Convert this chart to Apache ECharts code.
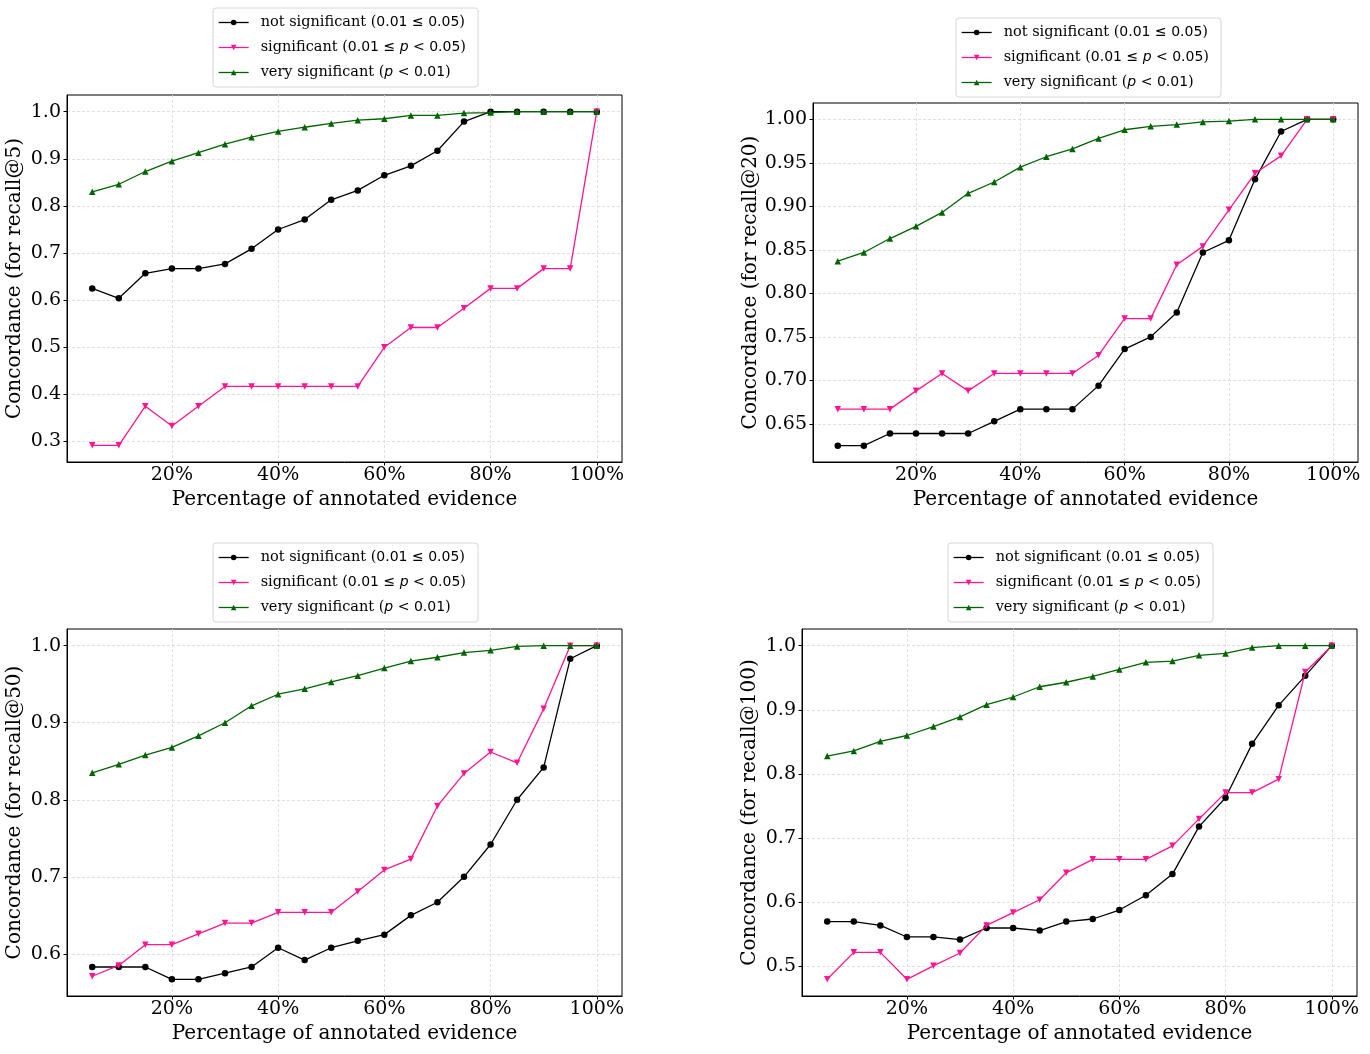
<!DOCTYPE html>
<html>
<head>
<meta charset="utf-8">
<script src="https://cdn.jsdelivr.net/npm/echarts@6/dist/echarts.min.js"></script>
<style>
html,body{margin:0;padding:0;background:#fff;}
#chart{width:1370px;height:1054px;}
</style>
</head>
<body>
<div id="chart"></div>
<script>
// ---- data ----
const xPercent = [5,10,15,20,25,30,35,40,45,50,55,60,65,70,75,80,85,90,95,100];
const xTicks = [20,40,60,80,100];

const seriesNames = ['not significant (0.01 ≤ 0.05)', 'significant (0.01 ≤ p < 0.05)', 'very significant (p < 0.01)'];

const r5NotSig  = [0.625,0.604,0.657,0.667,0.667,0.677,0.709,0.750,0.771,0.813,0.833,0.865,0.885,0.917,0.979,1.0,1.0,1.0,1.0,1.0];
const r5Sig     = [0.292,0.292,0.375,0.333,0.375,0.417,0.417,0.417,0.417,0.417,0.417,0.500,0.542,0.542,0.583,0.625,0.625,0.667,0.667,1.0];
const r5VerySig = [0.830,0.846,0.873,0.895,0.913,0.931,0.946,0.958,0.967,0.975,0.982,0.985,0.992,0.992,0.997,0.998,1.0,1.0,1.0,1.0];

const r20NotSig  = [0.625,0.625,0.639,0.639,0.639,0.639,0.653,0.667,0.667,0.667,0.694,0.736,0.750,0.778,0.847,0.861,0.931,0.986,1.0,1.0];
const r20Sig     = [0.667,0.667,0.667,0.688,0.708,0.688,0.708,0.708,0.708,0.708,0.729,0.771,0.771,0.833,0.854,0.896,0.938,0.958,1.0,1.0];
const r20VerySig = [0.837,0.847,0.863,0.877,0.893,0.915,0.928,0.945,0.957,0.966,0.978,0.988,0.992,0.994,0.997,0.998,1.0,1.0,1.0,1.0];

const r50NotSig  = [0.583,0.583,0.583,0.567,0.567,0.575,0.583,0.608,0.592,0.608,0.617,0.625,0.650,0.667,0.700,0.742,0.800,0.842,0.983,1.0];
const r50Sig     = [0.571,0.585,0.612,0.612,0.626,0.640,0.640,0.654,0.654,0.654,0.681,0.709,0.723,0.792,0.834,0.862,0.848,0.918,1.0,1.0];
const r50VerySig = [0.835,0.846,0.858,0.868,0.883,0.900,0.922,0.937,0.944,0.953,0.961,0.971,0.980,0.985,0.991,0.994,0.999,1.0,1.0,1.0];

const r100NotSig  = [0.570,0.570,0.564,0.546,0.546,0.542,0.560,0.560,0.556,0.570,0.574,0.588,0.611,0.644,0.718,0.763,0.847,0.907,0.953,1.0];
const r100Sig     = [0.480,0.522,0.522,0.480,0.501,0.521,0.564,0.584,0.604,0.646,0.667,0.667,0.667,0.688,0.730,0.771,0.771,0.792,0.959,1.0];
const r100VerySig = [0.828,0.836,0.851,0.860,0.874,0.889,0.908,0.920,0.936,0.943,0.952,0.963,0.974,0.976,0.985,0.988,0.997,1.0,1.0,1.0];

const yTicks5   = [0.3,0.4,0.5,0.6,0.7,0.8,0.9,1.0];
const yTicks20  = [0.65,0.70,0.75,0.80,0.85,0.90,0.95,1.00];
const yTicks50  = [0.6,0.7,0.8,0.9,1.0];
const yTicks100 = [0.5,0.6,0.7,0.8,0.9,1.0];

const yTitles = ['Concordance (for recall@5)','Concordance (for recall@20)','Concordance (for recall@50)','Concordance (for recall@100)'];
const xTitle = 'Percentage of annotated evidence';

// ---- layout / style ----
const panels = [
  {grid:{left:67, top:95, width:555, height:367}, legend:{left:213, top:8}, data:[r5NotSig,r5Sig,r5VerySig], ticks:yTicks5, dec:1, nameGap:42},
  {grid:{left:813, top:103, width:545, height:359}, legend:{left:956, top:18}, data:[r20NotSig,r20Sig,r20VerySig], ticks:yTicks20, dec:2, nameGap:52},
  {grid:{left:67, top:629, width:555, height:367}, legend:{left:213, top:543}, data:[r50NotSig,r50Sig,r50VerySig], ticks:yTicks50, dec:1, nameGap:42},
  {grid:{left:802, top:629, width:555, height:367}, legend:{left:948, top:543}, data:[r100NotSig,r100Sig,r100VerySig], ticks:yTicks100, dec:1, nameGap:42}
];
const colors = ['#000000', '#ff1493', '#006400'];
const symbols = ['circle', 'triangle', 'triangle'];
const symbolRot = [0, 180, 0];
const symbolSizes = [6.5, 6.5, 6.5];
const SERIF = '"DejaVu Serif", serif';
const SANS = '"DejaVu Sans", sans-serif';

function extent(arrs){
  let mn = Infinity, mx = -Infinity;
  arrs.forEach(a => a.forEach(v => { mn = Math.min(mn, v); mx = Math.max(mx, v); }));
  const pad = (mx - mn) * 0.05;
  return [mn - pad, mx + pad];
}
const xExt = [xPercent[0] - (xPercent[xPercent.length-1]-xPercent[0])*0.05, xPercent[xPercent.length-1] + (xPercent[xPercent.length-1]-xPercent[0])*0.05];

const legendRich = {
  m: {fontFamily: SANS, fontSize: 14, color:'#000'},
  i: {fontFamily: SANS, fontSize: 14, fontStyle:'italic', color:'#000'}
};
function legendFmt(name){
  if (name === seriesNames[0]) return 'not significant ({m|0.01 ≤ 0.05})';
  if (name === seriesNames[1]) return 'significant ({m|0.01 ≤ }{i|p}{m| < 0.05})';
  return 'very significant ({i|p}{m| < 0.01})';
}

const option = {
  backgroundColor: '#fff',
  animation: false,
  grid: [], xAxis: [], yAxis: [], legend: [], series: []
};

panels.forEach((p, gi) => {
  option.grid.push(Object.assign({show:true, borderColor:'#000', borderWidth:1, backgroundColor:'transparent'}, p.grid));
  option.legend.push({
    left: p.legend.left, top: p.legend.top, orient:'vertical',
    data: seriesNames.slice(),
    backgroundColor:'#fff', borderColor:'#d6d6d6', borderWidth:1, borderRadius:3,
    padding:[7,12,7,5], itemGap:10, itemWidth:30, itemHeight:7,
    lineStyle:{width:1.3},
    textStyle:{fontFamily:SERIF, fontSize:14.5, color:'#000', padding:[0,0,0,7], rich:legendRich},
    formatter: legendFmt
  });
  option.xAxis.push({
    type:'value', gridIndex:gi, min:xExt[0], max:xExt[1],
    name: xTitle, nameLocation:'middle', nameGap:28,
    nameTextStyle:{fontFamily:SERIF, fontSize:20, color:'#000'},
    axisLine:{show:true, onZero:false, lineStyle:{color:'#000', width:1}},
    axisTick:{show:true, length:3.5, lineStyle:{color:'#000'}, customValues:xTicks},
    axisLabel:{customValues:xTicks, formatter: v => Math.round(v) + '%', fontFamily:SERIF, fontSize:19, color:'#000', margin:4},
    splitLine:{show:true, lineStyle:{color:'#d8d8d8', width:0.8, type:[3,2]}}
  });
  const ye = extent(p.data);
  option.yAxis.push({
    type:'value', gridIndex:gi, min:ye[0], max:ye[1],
    name: yTitles[gi], nameLocation:'middle', nameGap:p.nameGap, nameRotate:90,
    nameTextStyle:{fontFamily:SERIF, fontSize:20, color:'#000'},
    axisLine:{show:true, onZero:false, lineStyle:{color:'#000', width:1}},
    axisTick:{show:true, length:3.5, lineStyle:{color:'#000'}, customValues:p.ticks},
    axisLabel:{customValues:p.ticks, formatter: v => v.toFixed(p.dec), fontFamily:SERIF, fontSize:19, color:'#000', margin:6},
    splitLine:{show:true, lineStyle:{color:'#d8d8d8', width:0.8, type:[3,2]}}
  });
  p.data.forEach((arr, si) => {
    option.series.push({
      type:'line', name: seriesNames[si], xAxisIndex:gi, yAxisIndex:gi,
      data: xPercent.map((x, k) => [x, arr[k]]),
      symbol: symbols[si], symbolRotate: symbolRot[si], symbolSize: symbolSizes[si], showSymbol:true,
      lineStyle:{color:colors[si], width:1.3},
      itemStyle:{color:colors[si], borderWidth:0},
      z: 2 + si
    });
  });
});

const chart = echarts.init(document.getElementById('chart'), null, {renderer:'canvas'});
chart.setOption(option);
</script>
</body>
</html>
